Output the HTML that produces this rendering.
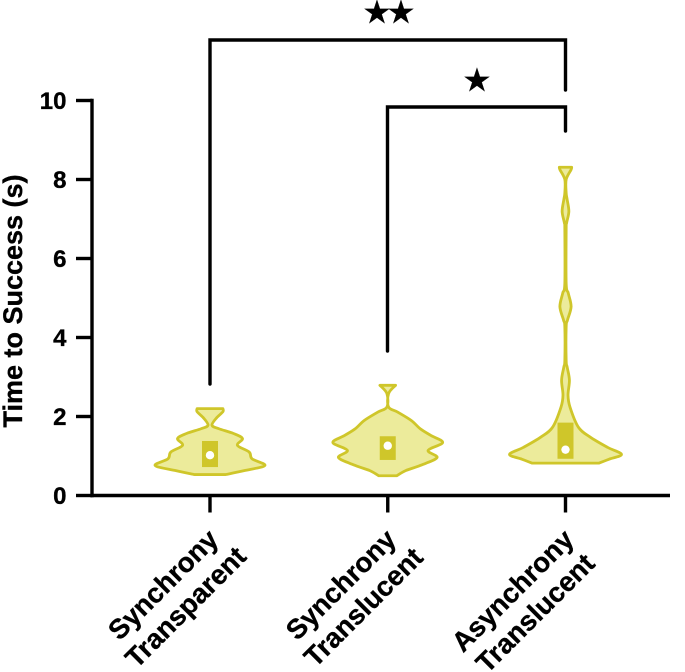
<!DOCTYPE html>
<html>
<head>
<meta charset="utf-8">
<style>
html,body{margin:0;padding:0;background:#fff;width:685px;height:672px;overflow:hidden}
svg{display:block}
text{font-family:"Liberation Sans",sans-serif;font-weight:700;fill:#000;stroke:#000;stroke-width:.35px}
</style>
</head>
<body>
<svg id="chart" width="685" height="672" viewBox="0 0 685 672" xmlns="http://www.w3.org/2000/svg">
  <text transform="translate(22,301) rotate(-90)" text-anchor="middle" font-size="27">Time to Success (s)</text>
  <g id="axes"></g>
  <g id="violins"></g>
  <g fill="none" stroke="#000" stroke-width="3.4" stroke-linejoin="miter" stroke-linecap="round">
    <path d="M210 384V40H565.5V90"/>
    <path d="M387.5 351V107H565.5V131"/>
  </g>
  <text x="377" y="23" text-anchor="middle" style="font-family:'DejaVu Sans',sans-serif" font-size="32">★</text>
  <text x="401" y="23" text-anchor="middle" style="font-family:'DejaVu Sans',sans-serif" font-size="32">★</text>
  <text x="477" y="91" text-anchor="middle" style="font-family:'DejaVu Sans',sans-serif" font-size="32">★</text>
</svg>
<script>
const categories = [["Synchrony","Transparent"],["Synchrony","Translucent"],["Asynchrony","Translucent"]];
const yTicks = [0,2,4,6,8,10];
const v1Values = [2.2,2.12,1.97,1.78,1.69,1.57,1.44,1.27,1.1,0.93,0.76,0.63,0.53];
const v1Density = [0.23,0.23,0.12,0.035,0.16,0.42,0.58,0.49,0.70,0.75,0.98,0.61,0.28];
const v2Values = [2.79,2.58,2.24,2.11,1.9,1.69,1.52,1.34,1.14,0.96,0.76,0.63,0.5];
const v2Density = [0.14,0.015,0.015,0.18,0.42,0.58,0.77,0.98,0.72,0.88,0.58,0.32,0.16];
const v3Values = [8.31,8.25,8.0,7.66,7.49,7.19,6.9,6.73,5.37,5.12,4.78,4.44,4.27,3.42,3.25,2.92,2.54,2.24,1.73,1.48,1.22,1.04,0.92,0.82];
const v3Density = [0.11,0.10,0.012,0.012,0.03,0.06,0.02,0.012,0.012,0.05,0.10,0.035,0.012,0.012,0.03,0.07,0.045,0.08,0.23,0.44,0.75,1.0,0.78,0.60];
const q1Values = [0.72,0.9,0.93];
const q3Values = [1.38,1.5,1.845];
const medianValues = [1.02,1.26,1.16];

const NS = "http://www.w3.org/2000/svg";
const yScale = v => 495.5 - 39.5 * v;
const xScale = i => 210 + 177.75 * i;
const widthScale = d => d * 56;

function mk(tag, attrs, parent){
  const el = document.createElementNS(NS, tag);
  for (const k in attrs) el.setAttribute(k, attrs[k]);
  parent.appendChild(el);
  return el;
}
const axes = document.getElementById('axes');
const AX = {stroke:"#000","stroke-width":3.4};

const yLine = mk('line', Object.assign({x1:92,x2:92,y1:yScale(10)-1.7,y2:yScale(0)+1.7},AX), axes);


const xLine = mk('line', Object.assign({x1:90.5,x2:670,y1:yScale(0),y2:yScale(0)},AX), axes);



yTicks.forEach(t => {
  const tick = mk('line', Object.assign({x1:76,x2:92,y1:yScale(t),y2:yScale(t)},AX), axes);
  
  
  const lab = mk('text', {x:66.5,y:yScale(t)+8.5,"text-anchor":"end","font-size":24}, axes);
  lab.textContent = t;
  
  
});

categories.forEach((lines,i) => {
  const x = xScale(i);
  const tick = mk('line', Object.assign({x1:x,x2:x,y1:yScale(0),y2:512.5},AX), axes);
  
  
  const ex = x + 10, ey = 541;
  const l1 = mk('text', {transform:`translate(${ex},${ey}) rotate(-45)`,"text-anchor":"end","font-size":27.5}, axes);
  l1.textContent = lines[0];
  
  
  const half = l1.getComputedTextLength() / 2 * Math.SQRT1_2;
  const l2 = mk('text', {transform:`translate(${ex-half+22.5},${ey+half+22.5}) rotate(-45)`,"text-anchor":"middle","font-size":27.5}, axes);
  l2.textContent = lines[1];
  
  
});

function smooth(pts){
  let d = "";
  for (let i=0;i<pts.length-1;i++){
    const p0 = pts[Math.max(i-1,0)], p1 = pts[i], p2 = pts[i+1], p3 = pts[Math.min(i+2,pts.length-1)];
    const c1x = p1[0]+(p2[0]-p0[0])/6, c1y = p1[1]+(p2[1]-p0[1])/6;
    const c2x = p2[0]-(p3[0]-p1[0])/6, c2y = p2[1]-(p3[1]-p1[1])/6;
    d += `C${c1x.toFixed(2)} ${c1y.toFixed(2)} ${c2x.toFixed(2)} ${c2y.toFixed(2)} ${p2[0].toFixed(2)} ${p2[1].toFixed(2)}`;
  }
  return d;
}

const violins = document.getElementById('violins');
const valueSets = [v1Values,v2Values,v3Values];
const densitySets = [v1Density,v2Density,v3Density];
valueSets.forEach((vals,i) => {
  const dens = densitySets[i];
  const cx = xScale(i);
  const right = vals.map((v,j) => [cx+widthScale(dens[j]), yScale(v)]);
  const left = vals.map((v,j) => [cx-widthScale(dens[j]), yScale(v)]).reverse();
  const d = `M${right[0][0]} ${right[0][1]}` + smooth(right) + `L${left[0][0]} ${left[0][1]}` + smooth(left) + "Z";
  const body = mk('path', {d, fill:"#eceb9b", stroke:"#cfc62a", "stroke-width":2.8, "stroke-linejoin":"round"}, violins);
  
  
  const box = mk('rect', {x:cx-8,width:16,y:yScale(q3Values[i]),height:yScale(q1Values[i])-yScale(q3Values[i]),fill:"#cfc62a"}, violins);
  
  
  const med = mk('circle', {cx:cx,cy:yScale(medianValues[i]),r:4.2,fill:"#fff"}, violins);
  
  
});
</script>
</body>
</html>
